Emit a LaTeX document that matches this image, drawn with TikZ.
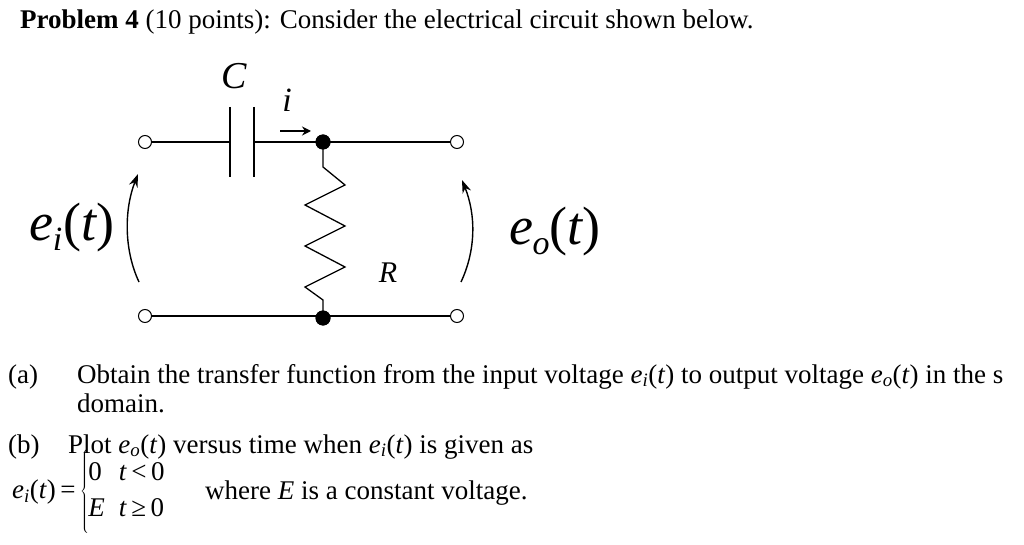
\documentclass[tikz,border=0pt]{standalone}
\usetikzlibrary{arrows.meta}
\usepackage{fontspec}
\setmainfont{Liberation Serif}
\begin{document}
\begin{tikzpicture}[x=1pt,y=-1pt,
  wire/.style={line width=1.3pt},
  term/.style={circle,draw,line width=1pt,fill=white,minimum size=13pt,inner sep=0pt},
  dot/.style={circle,fill=black,minimum size=15pt,inner sep=0pt},
  txt/.style={anchor=base west,inner sep=0pt,font=\fontsize{27}{32}\selectfont},
  big/.style={inner sep=0pt,font=\fontsize{54}{58}\selectfont\itshape}]
\useasboundingbox (0,0) rectangle (1024,545);
\coordinate (c1) at (230,142);
\coordinate (c2) at (254,142);
\node[dot] (n1) at (323,142) {};
\node[dot] (n2) at (323,318) {};
\coordinate (r1) at (323,167);
\coordinate (r2) at (323,300);
\draw[wire] (145,142) -- (c1);
\draw[wire] (c2) -- (n1.center) -- (457,142);
\draw[wire] (145,316) -- (457,316);
\draw[wire] (230,107) -- (230,177);
\draw[wire] (254,107) -- (254,177);
\draw[wire,line join=miter] (n1.center) -- (r1) -- (345,185) -- (305,205) -- (345,226) -- (305,246) -- (345,267) -- (305,287) -- (r2) -- (n2.center);
\node[term] (t1) at (145,142) {};
\node[term] (t2) at (457,142) {};
\node[term] (t3) at (145,316) {};
\node[term] (t4) at (457,316) {};
\node[dot] at (323,142) {};
\node[dot] at (323,318) {};
\coordinate (ia) at (280,131);
\coordinate (ib) at (311,131);
\draw[line width=2.2pt,-{Stealth[length=9pt,width=9pt]}] (ia) -- (ib);
\node[font=\fontsize{34}{36}\selectfont\itshape,inner sep=0pt] (il) at (287,100) {i};
\node[font=\fontsize{38}{40}\selectfont\itshape,inner sep=0pt] (cl) at (234,76) {C};
\node[font=\fontsize{30}{32}\selectfont\itshape,inner sep=0pt] (rl) at (388,273) {R};
\draw[line width=1.4pt,-{Stealth[length=13pt,width=9pt]}] (139,282) .. controls (124,250) and (124,210) .. (138,174);
\draw[line width=1.4pt,-{Stealth[length=13pt,width=9pt]}] (461,282) .. controls (476,250) and (476,215) .. (462,180);
\node[big] (ei) at (72,228) {e\kern-1pt\raisebox{-10pt}{\fontsize{34}{34}\selectfont i}\kern1pt\upshape(\itshape t\upshape)};
\node[big] (eo) at (555,232) {e\kern-1pt\raisebox{-10pt}{\fontsize{34}{34}\selectfont o}\upshape(\itshape t\upshape)};
\node[txt] at (20,29) {\textbf{Problem 4} (10 points): Consider the electrical circuit shown below.};
\node[txt] at (8,383) {(a)};
\node[txt] at (77,383) {Obtain the transfer function from the input voltage \textit{e\textsubscript{i}}(\textit{t}) to output voltage \textit{e\textsubscript{o}}(\textit{t}) in the s};
\node[txt] at (77,412) {domain.};
\node[txt] at (8,453) {(b)};
\node[txt] at (68,453) {Plot \textit{e\textsubscript{o}}(\textit{t}) versus time when \textit{e\textsubscript{i}}(\textit{t}) is given as};
\node[txt,anchor=west] at (12,491) {\textit{e\textsubscript{i}}(\textit{t})\,=\,$\left\{\vbox to 50pt{}\right.$\kern-2pt\begin{tabular}{@{}l@{\hspace{14pt}}l@{}}0 & \textit{t}\,<\,0\\[4pt] \textit{E} & \textit{t}\,≥\,0\end{tabular}};
\node[txt] at (205,499) {where \textit{E} is a constant voltage.};
\end{tikzpicture}
\end{document}
